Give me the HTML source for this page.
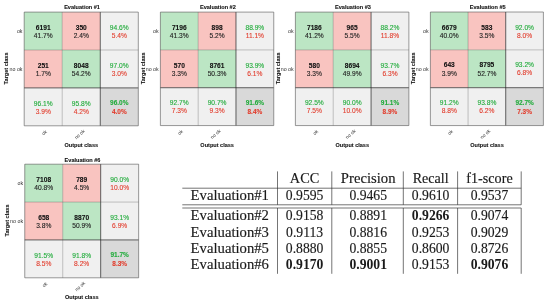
<!DOCTYPE html>
<html lang="en"><head><meta charset="utf-8"><title>Confusion matrices and evaluation metrics</title>
<style>
html,body{margin:0;padding:0;background:#fff;}
body{width:550px;height:304px;overflow:hidden;}
svg{display:block;}
</style></head>
<body>
<svg width="550" height="304" viewBox="0 0 550 304" font-family="Liberation Sans, sans-serif">
<defs><filter id="soft" x="-2%" y="-2%" width="104%" height="104%"><feGaussianBlur stdDeviation="0.35"/></filter></defs>
<rect width="550" height="304" fill="#fff"/>
<g filter="url(#soft)">
<rect x="24.2" y="12.1" width="38.03" height="37.9" fill="#bce6c4"/>
<rect x="62.23" y="12.1" width="38.03" height="37.9" fill="#f9c4c0"/>
<rect x="100.27" y="12.1" width="38.03" height="37.9" fill="#f0f0f0"/>
<rect x="24.2" y="50" width="38.03" height="37.9" fill="#f9c4c0"/>
<rect x="62.23" y="50" width="38.03" height="37.9" fill="#bce6c4"/>
<rect x="100.27" y="50" width="38.03" height="37.9" fill="#f0f0f0"/>
<rect x="24.2" y="87.9" width="38.03" height="37.9" fill="#f0f0f0"/>
<rect x="62.23" y="87.9" width="38.03" height="37.9" fill="#f0f0f0"/>
<rect x="100.27" y="87.9" width="38.03" height="37.9" fill="#d9d9d9"/>
<line x1="24.2" y1="12.1" x2="24.2" y2="125.8" stroke="#555" stroke-width="0.6"/>
<line x1="24.2" y1="12.1" x2="138.3" y2="12.1" stroke="#555" stroke-width="0.6"/>
<line x1="62.23" y1="12.1" x2="62.23" y2="125.8" stroke="#333" stroke-width="0.28"/>
<line x1="24.2" y1="50" x2="138.3" y2="50" stroke="#333" stroke-width="0.28"/>
<line x1="100.27" y1="12.1" x2="100.27" y2="125.8" stroke="#222" stroke-width="0.7"/>
<line x1="24.2" y1="87.9" x2="138.3" y2="87.9" stroke="#222" stroke-width="0.7"/>
<line x1="138.3" y1="12.1" x2="138.3" y2="125.8" stroke="#555" stroke-width="0.6"/>
<line x1="24.2" y1="125.8" x2="138.3" y2="125.8" stroke="#555" stroke-width="0.6"/>
<text transform="translate(43.22 29.75) scale(0.985 1)" font-size="6.75" font-weight="bold" fill="#111" stroke="#111" stroke-width="0.1" text-anchor="middle">6191</text>
<text transform="translate(43.22 38.05) scale(0.925 1)" font-size="7.2" fill="#222" stroke="#222" stroke-width="0.12" text-anchor="middle">41.7%</text>
<text transform="translate(81.25 29.75) scale(0.985 1)" font-size="6.75" font-weight="bold" fill="#111" stroke="#111" stroke-width="0.1" text-anchor="middle">350</text>
<text transform="translate(81.25 38.05) scale(0.925 1)" font-size="7.2" fill="#222" stroke="#222" stroke-width="0.12" text-anchor="middle">2.4%</text>
<text transform="translate(119.28 29.75) scale(0.925 1)" font-size="7.2" fill="#22ac3c" stroke="#22ac3c" stroke-width="0.12" text-anchor="middle">94.6%</text>
<text transform="translate(119.28 37.75) scale(0.925 1)" font-size="7.2" fill="#e23d2d" stroke="#e23d2d" stroke-width="0.12" text-anchor="middle">5.4%</text>
<text transform="translate(43.22 67.65) scale(0.985 1)" font-size="6.75" font-weight="bold" fill="#111" stroke="#111" stroke-width="0.1" text-anchor="middle">251</text>
<text transform="translate(43.22 75.95) scale(0.925 1)" font-size="7.2" fill="#222" stroke="#222" stroke-width="0.12" text-anchor="middle">1.7%</text>
<text transform="translate(81.25 67.65) scale(0.985 1)" font-size="6.75" font-weight="bold" fill="#111" stroke="#111" stroke-width="0.1" text-anchor="middle">8048</text>
<text transform="translate(81.25 75.95) scale(0.925 1)" font-size="7.2" fill="#222" stroke="#222" stroke-width="0.12" text-anchor="middle">54.2%</text>
<text transform="translate(119.28 67.65) scale(0.925 1)" font-size="7.2" fill="#22ac3c" stroke="#22ac3c" stroke-width="0.12" text-anchor="middle">97.0%</text>
<text transform="translate(119.28 75.65) scale(0.925 1)" font-size="7.2" fill="#e23d2d" stroke="#e23d2d" stroke-width="0.12" text-anchor="middle">3.0%</text>
<text transform="translate(43.22 105.55) scale(0.925 1)" font-size="7.2" fill="#22ac3c" stroke="#22ac3c" stroke-width="0.12" text-anchor="middle">96.1%</text>
<text transform="translate(43.22 113.55) scale(0.925 1)" font-size="7.2" fill="#e23d2d" stroke="#e23d2d" stroke-width="0.12" text-anchor="middle">3.9%</text>
<text transform="translate(81.25 105.55) scale(0.925 1)" font-size="7.2" fill="#22ac3c" stroke="#22ac3c" stroke-width="0.12" text-anchor="middle">95.8%</text>
<text transform="translate(81.25 113.55) scale(0.925 1)" font-size="7.2" fill="#e23d2d" stroke="#e23d2d" stroke-width="0.12" text-anchor="middle">4.2%</text>
<text transform="translate(119.28 105.25) scale(0.96 1)" font-size="6.75" font-weight="bold" fill="#22ac3c" stroke="#22ac3c" stroke-width="0.1" text-anchor="middle">96.0%</text>
<text transform="translate(119.28 113.75) scale(0.96 1)" font-size="6.75" font-weight="bold" fill="#e23d2d" stroke="#e23d2d" stroke-width="0.1" text-anchor="middle">4.0%</text>
<text x="82.05" y="9.4" font-size="5.55" font-weight="bold" fill="#111" stroke="#111" stroke-width="0.1" text-anchor="middle">Evaluation #1</text>
<text x="81.35" y="147.4" font-size="5.55" font-weight="bold" fill="#111" stroke="#111" stroke-width="0.1" text-anchor="middle">Output class</text>
<text transform="translate(8.4 68.45) rotate(-90)" font-size="5.55" font-weight="bold" fill="#111" stroke="#111" stroke-width="0.1" text-anchor="middle">Target class</text>
<text x="22.5" y="33.35" font-size="5.3" fill="#333" text-anchor="end">ok</text>
<text x="22.5" y="71.25" font-size="5.3" fill="#333" text-anchor="end">no ok</text>
<text transform="translate(44.42 132.8) rotate(-42)" font-size="4.8" fill="#333" text-anchor="middle" dy="1.5">ok</text>
<text transform="translate(79.75 134.5) rotate(-42)" font-size="4.8" fill="#333" text-anchor="middle" dy="1.5">no ok</text>
</g>
<g filter="url(#soft)">
<rect x="160.4" y="12.1" width="37.78" height="37.82" fill="#bce6c4"/>
<rect x="198.18" y="12.1" width="37.78" height="37.82" fill="#f9c4c0"/>
<rect x="235.97" y="12.1" width="37.78" height="37.82" fill="#f0f0f0"/>
<rect x="160.4" y="49.92" width="37.78" height="37.82" fill="#f9c4c0"/>
<rect x="198.18" y="49.92" width="37.78" height="37.82" fill="#bce6c4"/>
<rect x="235.97" y="49.92" width="37.78" height="37.82" fill="#f0f0f0"/>
<rect x="160.4" y="87.73" width="37.78" height="37.82" fill="#f0f0f0"/>
<rect x="198.18" y="87.73" width="37.78" height="37.82" fill="#f0f0f0"/>
<rect x="235.97" y="87.73" width="37.78" height="37.82" fill="#d9d9d9"/>
<line x1="160.4" y1="12.1" x2="160.4" y2="125.55" stroke="#555" stroke-width="0.6"/>
<line x1="160.4" y1="12.1" x2="273.75" y2="12.1" stroke="#555" stroke-width="0.6"/>
<line x1="198.18" y1="12.1" x2="198.18" y2="125.55" stroke="#333" stroke-width="0.28"/>
<line x1="160.4" y1="49.92" x2="273.75" y2="49.92" stroke="#333" stroke-width="0.28"/>
<line x1="235.97" y1="12.1" x2="235.97" y2="125.55" stroke="#222" stroke-width="0.7"/>
<line x1="160.4" y1="87.73" x2="273.75" y2="87.73" stroke="#222" stroke-width="0.7"/>
<line x1="273.75" y1="12.1" x2="273.75" y2="125.55" stroke="#555" stroke-width="0.6"/>
<line x1="160.4" y1="125.55" x2="273.75" y2="125.55" stroke="#555" stroke-width="0.6"/>
<text transform="translate(179.29 29.71) scale(0.985 1)" font-size="6.75" font-weight="bold" fill="#111" stroke="#111" stroke-width="0.1" text-anchor="middle">7196</text>
<text transform="translate(179.29 38.01) scale(0.925 1)" font-size="7.2" fill="#222" stroke="#222" stroke-width="0.12" text-anchor="middle">41.3%</text>
<text transform="translate(217.07 29.71) scale(0.985 1)" font-size="6.75" font-weight="bold" fill="#111" stroke="#111" stroke-width="0.1" text-anchor="middle">898</text>
<text transform="translate(217.07 38.01) scale(0.925 1)" font-size="7.2" fill="#222" stroke="#222" stroke-width="0.12" text-anchor="middle">5.2%</text>
<text transform="translate(254.86 29.71) scale(0.925 1)" font-size="7.2" fill="#22ac3c" stroke="#22ac3c" stroke-width="0.12" text-anchor="middle">88.9%</text>
<text transform="translate(254.86 37.71) scale(0.925 1)" font-size="7.2" fill="#e23d2d" stroke="#e23d2d" stroke-width="0.12" text-anchor="middle">11.1%</text>
<text transform="translate(179.29 67.53) scale(0.985 1)" font-size="6.75" font-weight="bold" fill="#111" stroke="#111" stroke-width="0.1" text-anchor="middle">570</text>
<text transform="translate(179.29 75.83) scale(0.925 1)" font-size="7.2" fill="#222" stroke="#222" stroke-width="0.12" text-anchor="middle">3.3%</text>
<text transform="translate(217.07 67.53) scale(0.985 1)" font-size="6.75" font-weight="bold" fill="#111" stroke="#111" stroke-width="0.1" text-anchor="middle">8761</text>
<text transform="translate(217.07 75.83) scale(0.925 1)" font-size="7.2" fill="#222" stroke="#222" stroke-width="0.12" text-anchor="middle">50.3%</text>
<text transform="translate(254.86 67.53) scale(0.925 1)" font-size="7.2" fill="#22ac3c" stroke="#22ac3c" stroke-width="0.12" text-anchor="middle">93.9%</text>
<text transform="translate(254.86 75.53) scale(0.925 1)" font-size="7.2" fill="#e23d2d" stroke="#e23d2d" stroke-width="0.12" text-anchor="middle">6.1%</text>
<text transform="translate(179.29 105.34) scale(0.925 1)" font-size="7.2" fill="#22ac3c" stroke="#22ac3c" stroke-width="0.12" text-anchor="middle">92.7%</text>
<text transform="translate(179.29 113.34) scale(0.925 1)" font-size="7.2" fill="#e23d2d" stroke="#e23d2d" stroke-width="0.12" text-anchor="middle">7.3%</text>
<text transform="translate(217.07 105.34) scale(0.925 1)" font-size="7.2" fill="#22ac3c" stroke="#22ac3c" stroke-width="0.12" text-anchor="middle">90.7%</text>
<text transform="translate(217.07 113.34) scale(0.925 1)" font-size="7.2" fill="#e23d2d" stroke="#e23d2d" stroke-width="0.12" text-anchor="middle">9.3%</text>
<text transform="translate(254.86 105.04) scale(0.96 1)" font-size="6.75" font-weight="bold" fill="#22ac3c" stroke="#22ac3c" stroke-width="0.1" text-anchor="middle">91.6%</text>
<text transform="translate(254.86 113.54) scale(0.96 1)" font-size="6.75" font-weight="bold" fill="#e23d2d" stroke="#e23d2d" stroke-width="0.1" text-anchor="middle">8.4%</text>
<text x="217.88" y="9.4" font-size="5.55" font-weight="bold" fill="#111" stroke="#111" stroke-width="0.1" text-anchor="middle">Evaluation #2</text>
<text x="217.17" y="147.15" font-size="5.55" font-weight="bold" fill="#111" stroke="#111" stroke-width="0.1" text-anchor="middle">Output class</text>
<text transform="translate(144.6 68.33) rotate(-90)" font-size="5.55" font-weight="bold" fill="#111" stroke="#111" stroke-width="0.1" text-anchor="middle">Target class</text>
<text x="158.7" y="33.31" font-size="5.3" fill="#333" text-anchor="end">ok</text>
<text x="158.7" y="71.12" font-size="5.3" fill="#333" text-anchor="end">no ok</text>
<text transform="translate(180.49 132.55) rotate(-42)" font-size="4.8" fill="#333" text-anchor="middle" dy="1.5">ok</text>
<text transform="translate(215.57 134.25) rotate(-42)" font-size="4.8" fill="#333" text-anchor="middle" dy="1.5">no ok</text>
</g>
<g filter="url(#soft)">
<rect x="295.4" y="12.1" width="37.83" height="37.82" fill="#bce6c4"/>
<rect x="333.23" y="12.1" width="37.83" height="37.82" fill="#f9c4c0"/>
<rect x="371.07" y="12.1" width="37.83" height="37.82" fill="#f0f0f0"/>
<rect x="295.4" y="49.92" width="37.83" height="37.82" fill="#f9c4c0"/>
<rect x="333.23" y="49.92" width="37.83" height="37.82" fill="#bce6c4"/>
<rect x="371.07" y="49.92" width="37.83" height="37.82" fill="#f0f0f0"/>
<rect x="295.4" y="87.73" width="37.83" height="37.82" fill="#f0f0f0"/>
<rect x="333.23" y="87.73" width="37.83" height="37.82" fill="#f0f0f0"/>
<rect x="371.07" y="87.73" width="37.83" height="37.82" fill="#d9d9d9"/>
<line x1="295.4" y1="12.1" x2="295.4" y2="125.55" stroke="#555" stroke-width="0.6"/>
<line x1="295.4" y1="12.1" x2="408.9" y2="12.1" stroke="#555" stroke-width="0.6"/>
<line x1="333.23" y1="12.1" x2="333.23" y2="125.55" stroke="#333" stroke-width="0.28"/>
<line x1="295.4" y1="49.92" x2="408.9" y2="49.92" stroke="#333" stroke-width="0.28"/>
<line x1="371.07" y1="12.1" x2="371.07" y2="125.55" stroke="#222" stroke-width="0.7"/>
<line x1="295.4" y1="87.73" x2="408.9" y2="87.73" stroke="#222" stroke-width="0.7"/>
<line x1="408.9" y1="12.1" x2="408.9" y2="125.55" stroke="#555" stroke-width="0.6"/>
<line x1="295.4" y1="125.55" x2="408.9" y2="125.55" stroke="#555" stroke-width="0.6"/>
<text transform="translate(314.32 29.71) scale(0.985 1)" font-size="6.75" font-weight="bold" fill="#111" stroke="#111" stroke-width="0.1" text-anchor="middle">7186</text>
<text transform="translate(314.32 38.01) scale(0.925 1)" font-size="7.2" fill="#222" stroke="#222" stroke-width="0.12" text-anchor="middle">41.2%</text>
<text transform="translate(352.15 29.71) scale(0.985 1)" font-size="6.75" font-weight="bold" fill="#111" stroke="#111" stroke-width="0.1" text-anchor="middle">965</text>
<text transform="translate(352.15 38.01) scale(0.925 1)" font-size="7.2" fill="#222" stroke="#222" stroke-width="0.12" text-anchor="middle">5.5%</text>
<text transform="translate(389.98 29.71) scale(0.925 1)" font-size="7.2" fill="#22ac3c" stroke="#22ac3c" stroke-width="0.12" text-anchor="middle">88.2%</text>
<text transform="translate(389.98 37.71) scale(0.925 1)" font-size="7.2" fill="#e23d2d" stroke="#e23d2d" stroke-width="0.12" text-anchor="middle">11.8%</text>
<text transform="translate(314.32 67.53) scale(0.985 1)" font-size="6.75" font-weight="bold" fill="#111" stroke="#111" stroke-width="0.1" text-anchor="middle">580</text>
<text transform="translate(314.32 75.83) scale(0.925 1)" font-size="7.2" fill="#222" stroke="#222" stroke-width="0.12" text-anchor="middle">3.3%</text>
<text transform="translate(352.15 67.53) scale(0.985 1)" font-size="6.75" font-weight="bold" fill="#111" stroke="#111" stroke-width="0.1" text-anchor="middle">8694</text>
<text transform="translate(352.15 75.83) scale(0.925 1)" font-size="7.2" fill="#222" stroke="#222" stroke-width="0.12" text-anchor="middle">49.9%</text>
<text transform="translate(389.98 67.53) scale(0.925 1)" font-size="7.2" fill="#22ac3c" stroke="#22ac3c" stroke-width="0.12" text-anchor="middle">93.7%</text>
<text transform="translate(389.98 75.53) scale(0.925 1)" font-size="7.2" fill="#e23d2d" stroke="#e23d2d" stroke-width="0.12" text-anchor="middle">6.3%</text>
<text transform="translate(314.32 105.34) scale(0.925 1)" font-size="7.2" fill="#22ac3c" stroke="#22ac3c" stroke-width="0.12" text-anchor="middle">92.5%</text>
<text transform="translate(314.32 113.34) scale(0.925 1)" font-size="7.2" fill="#e23d2d" stroke="#e23d2d" stroke-width="0.12" text-anchor="middle">7.5%</text>
<text transform="translate(352.15 105.34) scale(0.925 1)" font-size="7.2" fill="#22ac3c" stroke="#22ac3c" stroke-width="0.12" text-anchor="middle">90.0%</text>
<text transform="translate(352.15 113.34) scale(0.925 1)" font-size="7.2" fill="#e23d2d" stroke="#e23d2d" stroke-width="0.12" text-anchor="middle">10.0%</text>
<text transform="translate(389.98 105.04) scale(0.96 1)" font-size="6.75" font-weight="bold" fill="#22ac3c" stroke="#22ac3c" stroke-width="0.1" text-anchor="middle">91.1%</text>
<text transform="translate(389.98 113.54) scale(0.96 1)" font-size="6.75" font-weight="bold" fill="#e23d2d" stroke="#e23d2d" stroke-width="0.1" text-anchor="middle">8.9%</text>
<text x="352.95" y="9.4" font-size="5.55" font-weight="bold" fill="#111" stroke="#111" stroke-width="0.1" text-anchor="middle">Evaluation #3</text>
<text x="352.25" y="147.15" font-size="5.55" font-weight="bold" fill="#111" stroke="#111" stroke-width="0.1" text-anchor="middle">Output class</text>
<text transform="translate(279.6 68.33) rotate(-90)" font-size="5.55" font-weight="bold" fill="#111" stroke="#111" stroke-width="0.1" text-anchor="middle">Target class</text>
<text x="293.7" y="33.31" font-size="5.3" fill="#333" text-anchor="end">ok</text>
<text x="293.7" y="71.12" font-size="5.3" fill="#333" text-anchor="end">no ok</text>
<text transform="translate(315.52 132.55) rotate(-42)" font-size="4.8" fill="#333" text-anchor="middle" dy="1.5">ok</text>
<text transform="translate(350.65 134.25) rotate(-42)" font-size="4.8" fill="#333" text-anchor="middle" dy="1.5">no ok</text>
</g>
<g filter="url(#soft)">
<rect x="430.4" y="12" width="37.67" height="37.85" fill="#bce6c4"/>
<rect x="468.07" y="12" width="37.67" height="37.85" fill="#f9c4c0"/>
<rect x="505.73" y="12" width="37.67" height="37.85" fill="#f0f0f0"/>
<rect x="430.4" y="49.85" width="37.67" height="37.85" fill="#f9c4c0"/>
<rect x="468.07" y="49.85" width="37.67" height="37.85" fill="#bce6c4"/>
<rect x="505.73" y="49.85" width="37.67" height="37.85" fill="#f0f0f0"/>
<rect x="430.4" y="87.7" width="37.67" height="37.85" fill="#f0f0f0"/>
<rect x="468.07" y="87.7" width="37.67" height="37.85" fill="#f0f0f0"/>
<rect x="505.73" y="87.7" width="37.67" height="37.85" fill="#d9d9d9"/>
<line x1="430.4" y1="12" x2="430.4" y2="125.55" stroke="#555" stroke-width="0.6"/>
<line x1="430.4" y1="12" x2="543.4" y2="12" stroke="#555" stroke-width="0.6"/>
<line x1="468.07" y1="12" x2="468.07" y2="125.55" stroke="#333" stroke-width="0.28"/>
<line x1="430.4" y1="49.85" x2="543.4" y2="49.85" stroke="#333" stroke-width="0.28"/>
<line x1="505.73" y1="12" x2="505.73" y2="125.55" stroke="#222" stroke-width="0.7"/>
<line x1="430.4" y1="87.7" x2="543.4" y2="87.7" stroke="#222" stroke-width="0.7"/>
<line x1="543.4" y1="12" x2="543.4" y2="125.55" stroke="#555" stroke-width="0.6"/>
<line x1="430.4" y1="125.55" x2="543.4" y2="125.55" stroke="#555" stroke-width="0.6"/>
<text transform="translate(449.23 29.62) scale(0.985 1)" font-size="6.75" font-weight="bold" fill="#111" stroke="#111" stroke-width="0.1" text-anchor="middle">6679</text>
<text transform="translate(449.23 37.92) scale(0.925 1)" font-size="7.2" fill="#222" stroke="#222" stroke-width="0.12" text-anchor="middle">40.0%</text>
<text transform="translate(486.9 29.62) scale(0.985 1)" font-size="6.75" font-weight="bold" fill="#111" stroke="#111" stroke-width="0.1" text-anchor="middle">583</text>
<text transform="translate(486.9 37.92) scale(0.925 1)" font-size="7.2" fill="#222" stroke="#222" stroke-width="0.12" text-anchor="middle">3.5%</text>
<text transform="translate(524.57 29.62) scale(0.925 1)" font-size="7.2" fill="#22ac3c" stroke="#22ac3c" stroke-width="0.12" text-anchor="middle">92.0%</text>
<text transform="translate(524.57 37.62) scale(0.925 1)" font-size="7.2" fill="#e23d2d" stroke="#e23d2d" stroke-width="0.12" text-anchor="middle">8.0%</text>
<text transform="translate(449.23 67.48) scale(0.985 1)" font-size="6.75" font-weight="bold" fill="#111" stroke="#111" stroke-width="0.1" text-anchor="middle">643</text>
<text transform="translate(449.23 75.78) scale(0.925 1)" font-size="7.2" fill="#222" stroke="#222" stroke-width="0.12" text-anchor="middle">3.9%</text>
<text transform="translate(486.9 67.48) scale(0.985 1)" font-size="6.75" font-weight="bold" fill="#111" stroke="#111" stroke-width="0.1" text-anchor="middle">8795</text>
<text transform="translate(486.9 75.78) scale(0.925 1)" font-size="7.2" fill="#222" stroke="#222" stroke-width="0.12" text-anchor="middle">52.7%</text>
<text transform="translate(524.57 67.48) scale(0.925 1)" font-size="7.2" fill="#22ac3c" stroke="#22ac3c" stroke-width="0.12" text-anchor="middle">93.2%</text>
<text transform="translate(524.57 75.48) scale(0.925 1)" font-size="7.2" fill="#e23d2d" stroke="#e23d2d" stroke-width="0.12" text-anchor="middle">6.8%</text>
<text transform="translate(449.23 105.33) scale(0.925 1)" font-size="7.2" fill="#22ac3c" stroke="#22ac3c" stroke-width="0.12" text-anchor="middle">91.2%</text>
<text transform="translate(449.23 113.33) scale(0.925 1)" font-size="7.2" fill="#e23d2d" stroke="#e23d2d" stroke-width="0.12" text-anchor="middle">8.8%</text>
<text transform="translate(486.9 105.33) scale(0.925 1)" font-size="7.2" fill="#22ac3c" stroke="#22ac3c" stroke-width="0.12" text-anchor="middle">93.8%</text>
<text transform="translate(486.9 113.33) scale(0.925 1)" font-size="7.2" fill="#e23d2d" stroke="#e23d2d" stroke-width="0.12" text-anchor="middle">6.2%</text>
<text transform="translate(524.57 105.03) scale(0.96 1)" font-size="6.75" font-weight="bold" fill="#22ac3c" stroke="#22ac3c" stroke-width="0.1" text-anchor="middle">92.7%</text>
<text transform="translate(524.57 113.53) scale(0.96 1)" font-size="6.75" font-weight="bold" fill="#e23d2d" stroke="#e23d2d" stroke-width="0.1" text-anchor="middle">7.3%</text>
<text x="487.7" y="9.3" font-size="5.55" font-weight="bold" fill="#111" stroke="#111" stroke-width="0.1" text-anchor="middle">Evaluation #5</text>
<text x="487" y="147.15" font-size="5.55" font-weight="bold" fill="#111" stroke="#111" stroke-width="0.1" text-anchor="middle">Output class</text>
<text transform="translate(414.6 68.28) rotate(-90)" font-size="5.55" font-weight="bold" fill="#111" stroke="#111" stroke-width="0.1" text-anchor="middle">Target class</text>
<text x="428.7" y="33.23" font-size="5.3" fill="#333" text-anchor="end">ok</text>
<text x="428.7" y="71.08" font-size="5.3" fill="#333" text-anchor="end">no ok</text>
<text transform="translate(450.43 132.55) rotate(-42)" font-size="4.8" fill="#333" text-anchor="middle" dy="1.5">ok</text>
<text transform="translate(485.4 134.25) rotate(-42)" font-size="4.8" fill="#333" text-anchor="middle" dy="1.5">no ok</text>
</g>
<g filter="url(#soft)">
<rect x="24.75" y="164.2" width="37.97" height="37.87" fill="#bce6c4"/>
<rect x="62.72" y="164.2" width="37.97" height="37.87" fill="#f9c4c0"/>
<rect x="100.68" y="164.2" width="37.97" height="37.87" fill="#f0f0f0"/>
<rect x="24.75" y="202.07" width="37.97" height="37.87" fill="#f9c4c0"/>
<rect x="62.72" y="202.07" width="37.97" height="37.87" fill="#bce6c4"/>
<rect x="100.68" y="202.07" width="37.97" height="37.87" fill="#f0f0f0"/>
<rect x="24.75" y="239.93" width="37.97" height="37.87" fill="#f0f0f0"/>
<rect x="62.72" y="239.93" width="37.97" height="37.87" fill="#f0f0f0"/>
<rect x="100.68" y="239.93" width="37.97" height="37.87" fill="#d9d9d9"/>
<line x1="24.75" y1="164.2" x2="24.75" y2="277.8" stroke="#555" stroke-width="0.6"/>
<line x1="24.75" y1="164.2" x2="138.65" y2="164.2" stroke="#555" stroke-width="0.6"/>
<line x1="62.72" y1="164.2" x2="62.72" y2="277.8" stroke="#333" stroke-width="0.28"/>
<line x1="24.75" y1="202.07" x2="138.65" y2="202.07" stroke="#333" stroke-width="0.28"/>
<line x1="100.68" y1="164.2" x2="100.68" y2="277.8" stroke="#222" stroke-width="0.7"/>
<line x1="24.75" y1="239.93" x2="138.65" y2="239.93" stroke="#222" stroke-width="0.7"/>
<line x1="138.65" y1="164.2" x2="138.65" y2="277.8" stroke="#555" stroke-width="0.6"/>
<line x1="24.75" y1="277.8" x2="138.65" y2="277.8" stroke="#555" stroke-width="0.6"/>
<text transform="translate(43.73 181.83) scale(0.985 1)" font-size="6.75" font-weight="bold" fill="#111" stroke="#111" stroke-width="0.1" text-anchor="middle">7108</text>
<text transform="translate(43.73 190.13) scale(0.925 1)" font-size="7.2" fill="#222" stroke="#222" stroke-width="0.12" text-anchor="middle">40.8%</text>
<text transform="translate(81.7 181.83) scale(0.985 1)" font-size="6.75" font-weight="bold" fill="#111" stroke="#111" stroke-width="0.1" text-anchor="middle">789</text>
<text transform="translate(81.7 190.13) scale(0.925 1)" font-size="7.2" fill="#222" stroke="#222" stroke-width="0.12" text-anchor="middle">4.5%</text>
<text transform="translate(119.67 181.83) scale(0.925 1)" font-size="7.2" fill="#22ac3c" stroke="#22ac3c" stroke-width="0.12" text-anchor="middle">90.0%</text>
<text transform="translate(119.67 189.83) scale(0.925 1)" font-size="7.2" fill="#e23d2d" stroke="#e23d2d" stroke-width="0.12" text-anchor="middle">10.0%</text>
<text transform="translate(43.73 219.7) scale(0.985 1)" font-size="6.75" font-weight="bold" fill="#111" stroke="#111" stroke-width="0.1" text-anchor="middle">658</text>
<text transform="translate(43.73 228) scale(0.925 1)" font-size="7.2" fill="#222" stroke="#222" stroke-width="0.12" text-anchor="middle">3.8%</text>
<text transform="translate(81.7 219.7) scale(0.985 1)" font-size="6.75" font-weight="bold" fill="#111" stroke="#111" stroke-width="0.1" text-anchor="middle">8870</text>
<text transform="translate(81.7 228) scale(0.925 1)" font-size="7.2" fill="#222" stroke="#222" stroke-width="0.12" text-anchor="middle">50.9%</text>
<text transform="translate(119.67 219.7) scale(0.925 1)" font-size="7.2" fill="#22ac3c" stroke="#22ac3c" stroke-width="0.12" text-anchor="middle">93.1%</text>
<text transform="translate(119.67 227.7) scale(0.925 1)" font-size="7.2" fill="#e23d2d" stroke="#e23d2d" stroke-width="0.12" text-anchor="middle">6.9%</text>
<text transform="translate(43.73 257.57) scale(0.925 1)" font-size="7.2" fill="#22ac3c" stroke="#22ac3c" stroke-width="0.12" text-anchor="middle">91.5%</text>
<text transform="translate(43.73 265.57) scale(0.925 1)" font-size="7.2" fill="#e23d2d" stroke="#e23d2d" stroke-width="0.12" text-anchor="middle">8.5%</text>
<text transform="translate(81.7 257.57) scale(0.925 1)" font-size="7.2" fill="#22ac3c" stroke="#22ac3c" stroke-width="0.12" text-anchor="middle">91.8%</text>
<text transform="translate(81.7 265.57) scale(0.925 1)" font-size="7.2" fill="#e23d2d" stroke="#e23d2d" stroke-width="0.12" text-anchor="middle">8.2%</text>
<text transform="translate(119.67 257.27) scale(0.96 1)" font-size="6.75" font-weight="bold" fill="#22ac3c" stroke="#22ac3c" stroke-width="0.1" text-anchor="middle">91.7%</text>
<text transform="translate(119.67 265.77) scale(0.96 1)" font-size="6.75" font-weight="bold" fill="#e23d2d" stroke="#e23d2d" stroke-width="0.1" text-anchor="middle">8.3%</text>
<text x="82.5" y="161.5" font-size="5.55" font-weight="bold" fill="#111" stroke="#111" stroke-width="0.1" text-anchor="middle">Evaluation #6</text>
<text x="81.8" y="299.4" font-size="5.55" font-weight="bold" fill="#111" stroke="#111" stroke-width="0.1" text-anchor="middle">Output class</text>
<text transform="translate(8.95 220.5) rotate(-90)" font-size="5.55" font-weight="bold" fill="#111" stroke="#111" stroke-width="0.1" text-anchor="middle">Target class</text>
<text x="23.05" y="185.43" font-size="5.3" fill="#333" text-anchor="end">ok</text>
<text x="23.05" y="223.3" font-size="5.3" fill="#333" text-anchor="end">no ok</text>
<text transform="translate(44.93 284.8) rotate(-42)" font-size="4.8" fill="#333" text-anchor="middle" dy="1.5">ok</text>
<text transform="translate(80.2 286.5) rotate(-42)" font-size="4.8" fill="#333" text-anchor="middle" dy="1.5">no ok</text>
</g>
<g font-family="Liberation Serif, serif" fill="#1a1a1a">
<line x1="182.3" y1="188.2" x2="521.2" y2="188.2" stroke="#2a2a2a" stroke-width="0.65"/>
<line x1="182.3" y1="204.8" x2="521.2" y2="204.8" stroke="#2a2a2a" stroke-width="0.65"/>
<line x1="182.3" y1="208.0" x2="521.2" y2="208.0" stroke="#2a2a2a" stroke-width="0.65"/>
<line x1="277.5" y1="171.4" x2="277.5" y2="204.8" stroke="#2a2a2a" stroke-width="0.65"/>
<line x1="277.5" y1="208.0" x2="277.5" y2="273.8" stroke="#2a2a2a" stroke-width="0.65"/>
<line x1="331.8" y1="171.4" x2="331.8" y2="204.8" stroke="#2a2a2a" stroke-width="0.65"/>
<line x1="331.8" y1="208.0" x2="331.8" y2="273.8" stroke="#2a2a2a" stroke-width="0.65"/>
<line x1="403.3" y1="171.4" x2="403.3" y2="204.8" stroke="#2a2a2a" stroke-width="0.65"/>
<line x1="403.3" y1="208.0" x2="403.3" y2="273.8" stroke="#2a2a2a" stroke-width="0.65"/>
<line x1="457.6" y1="171.4" x2="457.6" y2="204.8" stroke="#2a2a2a" stroke-width="0.65"/>
<line x1="457.6" y1="208.0" x2="457.6" y2="273.8" stroke="#2a2a2a" stroke-width="0.65"/>
<line x1="521.2" y1="171.4" x2="521.2" y2="204.8" stroke="#2a2a2a" stroke-width="0.65"/>
<line x1="521.2" y1="208.0" x2="521.2" y2="273.8" stroke="#2a2a2a" stroke-width="0.65"/>
<text transform="translate(304.6 183.1) scale(1.04 1.0)" font-size="13.8" stroke="#1a1a1a" stroke-width="0.15" text-anchor="middle">ACC</text>
<text transform="translate(368.2 183.1) scale(1.066 1.0)" font-size="13.8" stroke="#1a1a1a" stroke-width="0.15" text-anchor="middle">Precision</text>
<text transform="translate(430.6 183.1) scale(1.02 1.0)" font-size="13.8" stroke="#1a1a1a" stroke-width="0.15" text-anchor="middle">Recall</text>
<text transform="translate(489.5 183.1) scale(1.025 1.0)" font-size="13.8" stroke="#1a1a1a" stroke-width="0.15" text-anchor="middle">f1-score</text>
<text transform="translate(190.6 199.8) scale(1.066 1.0)" font-size="13.8" stroke="#1a1a1a" stroke-width="0.15" text-anchor="start">Evaluation#1</text>
<text transform="translate(304.6 199.8) scale(0.99 1.0)" font-size="13.8" stroke="#1a1a1a" stroke-width="0.15" text-anchor="middle">0.9595</text>
<text transform="translate(368.2 199.8) scale(0.99 1.0)" font-size="13.8" stroke="#1a1a1a" stroke-width="0.15" text-anchor="middle">0.9465</text>
<text transform="translate(430.6 199.8) scale(0.99 1.0)" font-size="13.8" stroke="#1a1a1a" stroke-width="0.15" text-anchor="middle">0.9610</text>
<text transform="translate(489.5 199.8) scale(0.99 1.0)" font-size="13.8" stroke="#1a1a1a" stroke-width="0.15" text-anchor="middle">0.9537</text>
<text transform="translate(190.6 220.1) scale(1.066 1.0)" font-size="13.8" stroke="#1a1a1a" stroke-width="0.15" text-anchor="start">Evaluation#2</text>
<text transform="translate(304.6 220.1) scale(0.99 1.0)" font-size="13.8" stroke="#1a1a1a" stroke-width="0.15" text-anchor="middle">0.9158</text>
<text transform="translate(368.2 220.1) scale(0.99 1.0)" font-size="13.8" stroke="#1a1a1a" stroke-width="0.15" text-anchor="middle">0.8891</text>
<text transform="translate(430.6 220.1) scale(0.99 1.0)" font-size="13.8" font-weight="bold" text-anchor="middle">0.9266</text>
<text transform="translate(489.5 220.1) scale(0.99 1.0)" font-size="13.8" stroke="#1a1a1a" stroke-width="0.15" text-anchor="middle">0.9074</text>
<text transform="translate(190.6 236.5) scale(1.066 1.0)" font-size="13.8" stroke="#1a1a1a" stroke-width="0.15" text-anchor="start">Evaluation#3</text>
<text transform="translate(304.6 236.5) scale(0.99 1.0)" font-size="13.8" stroke="#1a1a1a" stroke-width="0.15" text-anchor="middle">0.9113</text>
<text transform="translate(368.2 236.5) scale(0.99 1.0)" font-size="13.8" stroke="#1a1a1a" stroke-width="0.15" text-anchor="middle">0.8816</text>
<text transform="translate(430.6 236.5) scale(0.99 1.0)" font-size="13.8" stroke="#1a1a1a" stroke-width="0.15" text-anchor="middle">0.9253</text>
<text transform="translate(489.5 236.5) scale(0.99 1.0)" font-size="13.8" stroke="#1a1a1a" stroke-width="0.15" text-anchor="middle">0.9029</text>
<text transform="translate(190.6 252.7) scale(1.066 1.0)" font-size="13.8" stroke="#1a1a1a" stroke-width="0.15" text-anchor="start">Evaluation#5</text>
<text transform="translate(304.6 252.7) scale(0.99 1.0)" font-size="13.8" stroke="#1a1a1a" stroke-width="0.15" text-anchor="middle">0.8880</text>
<text transform="translate(368.2 252.7) scale(0.99 1.0)" font-size="13.8" stroke="#1a1a1a" stroke-width="0.15" text-anchor="middle">0.8855</text>
<text transform="translate(430.6 252.7) scale(0.99 1.0)" font-size="13.8" stroke="#1a1a1a" stroke-width="0.15" text-anchor="middle">0.8600</text>
<text transform="translate(489.5 252.7) scale(0.99 1.0)" font-size="13.8" stroke="#1a1a1a" stroke-width="0.15" text-anchor="middle">0.8726</text>
<text transform="translate(190.6 268.9) scale(1.066 1.0)" font-size="13.8" stroke="#1a1a1a" stroke-width="0.15" text-anchor="start">Evaluation#6</text>
<text transform="translate(304.6 268.9) scale(0.99 1.0)" font-size="13.8" font-weight="bold" text-anchor="middle">0.9170</text>
<text transform="translate(368.2 268.9) scale(0.99 1.0)" font-size="13.8" font-weight="bold" text-anchor="middle">0.9001</text>
<text transform="translate(430.6 268.9) scale(0.99 1.0)" font-size="13.8" stroke="#1a1a1a" stroke-width="0.15" text-anchor="middle">0.9153</text>
<text transform="translate(489.5 268.9) scale(0.99 1.0)" font-size="13.8" font-weight="bold" text-anchor="middle">0.9076</text>
</g>
</svg>
</body></html>
